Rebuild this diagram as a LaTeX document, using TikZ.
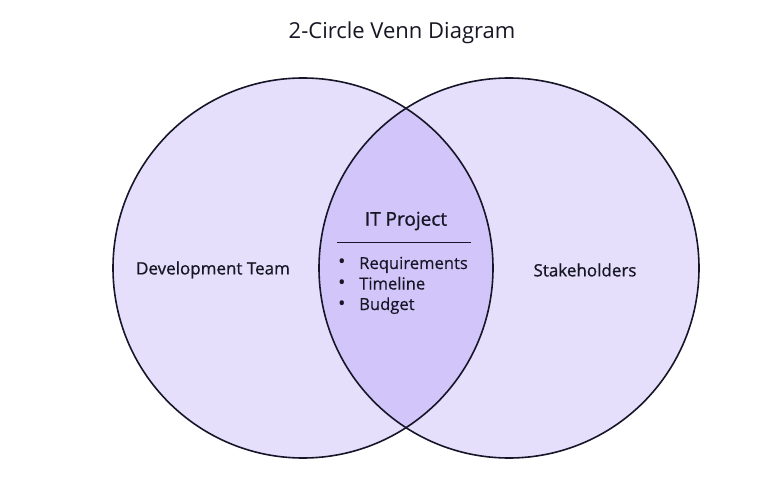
\documentclass[tikz,border=0pt]{standalone}
\usepackage{fontspec}
\setmainfont{Open Sans}
\usepackage{tikz}
\usetikzlibrary{positioning, calc}

\definecolor{vennfill}{RGB}{229,223,252}
\definecolor{vennover}{RGB}{209,197,249}
\definecolor{vennline}{RGB}{22,22,40}
\definecolor{txt}{RGB}{22,22,36}

\begin{document}
\begin{tikzpicture}[x=1pt, y=-1pt,
        ring/.style={draw=vennline, line width=1.6pt},
        label/.style={font=\fontsize{17}{20}\selectfont\addfontfeature{FakeBold=0.8}, text=txt, inner sep=0pt},
        item/.style={font=\fontsize{16.6}{19}\selectfont\addfontfeature{FakeBold=0.3}, text=txt, inner sep=0pt, anchor=base west}]
    \useasboundingbox (0,0) rectangle (780,492);

    % Title
    \node[font=\fontsize{22}{26}\selectfont, text=txt] (title) at (402,33) {2-Circle Venn Diagram};

    % Circles and their overlap
    \fill[vennfill] (303,268) circle (190);
    \fill[vennfill] (509,268) circle (190);
    \begin{scope}
        \clip (303,268) circle (190);
        \fill[vennover] (509,268) circle (190);
    \end{scope}
    \draw[ring] (303,268) circle (190);
    \draw[ring] (509,268) circle (190);

    % Set labels
    \node[label] (dev) at (213,270) {Development Team};
    \node[label] (stake) at (585,270) {Stakeholders};

    % Overlap heading and rule
    \node[label, font=\fontsize{19}{22}\selectfont\addfontfeature{FakeBold=1}] (proj) at (406,221) {IT Project};
    \coordinate (rule-l) at (337,242);
    \coordinate (rule-r) at (471,242);
    \draw[vennline, line width=0.8pt] (rule-l) -- (rule-r);

    % Bullet items
    \foreach \txt [count=\k] in {Requirements, Timeline, Budget} {
        \node[item, font=\fontsize{20}{20}\selectfont] (dot-\k) at (338,{248.5+\k*20.5}) {•};
        \node[item] (it-\k) at (359,{248.5+\k*20.5}) {\txt};
    }
\end{tikzpicture}
\end{document}
